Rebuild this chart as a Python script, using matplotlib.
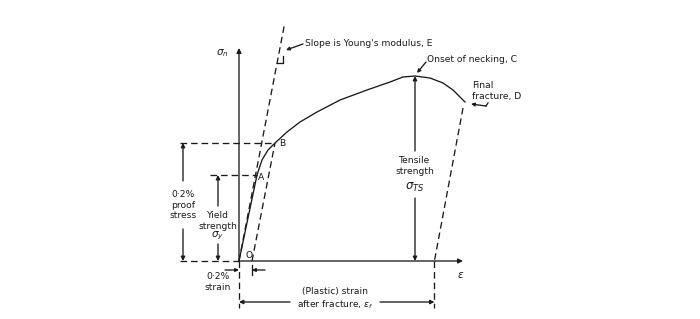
import matplotlib
matplotlib.use("Agg")
import matplotlib.pyplot as plt
import numpy as np

# ---- data (arbitrary strain / stress units) ----
curve_strain = [0, 18, 23, 29, 36, 48, 61, 78, 101, 128, 151, 164, 176, 191, 204, 214, 221, 226]
curve_stress = [0, 86, 101, 111, 118, 129, 139, 149, 161, 171, 179, 184, 185, 183, 178, 171, 164, 159]
modulus_E = 5.2          # slope of elastic line
proof_offset = 13        # 0.2 % strain offset
elastic_top = 236        # top of elastic dashed line (stress)
point_A = (18, 86)
point_B = (36, 118)
point_C = (176, 185)
point_D = (226, 159)

labels = {
    "sigma": r"$\sigma_n$",
    "eps": r"$\epsilon$",
    "slope": "Slope is Young's modulus, E",
    "neck": "Onset of necking, C",
    "fract": "Final\nfracture, D",
    "proof": "0·2%\nproof\nstress",
    "yield": "Yield\nstrength",
    "sy": r"$\sigma_y$",
    "ts": "Tensile\nstrength",
    "sts": r"$\sigma_{TS}$",
    "strain02": "0·2%\nstrain",
    "plastic": "(Plastic) strain\nafter fracture, $\\epsilon_f$",
}

C = "#1a1a1a"
FS = 6.6
DASH = (0, (5, 3))
LW = 0.95

fig = plt.figure(figsize=(7.0, 3.19), dpi=100)
ax = fig.add_axes([0, 0, 1, 1])
ax.set_xlim(-239, 461)
ax.set_ylim(-58, 261)
ax.axis("off")

def arrow(x0, y0, x1, y1, ms=6):
    ax.annotate("", xy=(x1, y1), xytext=(x0, y0),
                arrowprops=dict(arrowstyle="-|>", color=C, lw=LW,
                                mutation_scale=ms, shrinkA=0, shrinkB=0))

# axes
arrow(0, 0, 0, 213, ms=7)
arrow(0, 0, 224, 0, ms=7)
ax.text(-17, 208, labels["sigma"], fontsize=7.5, color=C, ha="center", va="center")
ax.text(222, -14, labels["eps"], fontsize=7.5, color=C, ha="center", va="center")

# main curve
ax.plot(curve_strain, curve_stress, color=C, lw=LW, solid_joinstyle="round")

# elastic dashed line through origin
ax.plot([0, elastic_top / modulus_E], [0, elastic_top], color=C, lw=LW, ls=DASH)
# offset line to B
ax.plot([proof_offset, point_B[0]], [0, point_B[1]], color=C, lw=LW, ls=DASH)
# unloading line from D
eps_f = point_D[0] - point_D[1] / modulus_E
ax.plot([point_D[0] - 2, eps_f], [point_D[1] - 6, 0], color=C, lw=LW, ls=DASH)

# point labels
ax.text(point_A[0] + 1, point_A[1] - 3, "A", fontsize=FS, color=C, ha="left", va="center")
ax.text(point_B[0] + 4, point_B[1], "B", fontsize=FS, color=C, ha="left", va="center")
ax.text(6, 5, "O", fontsize=FS, color=C, ha="left", va="center")

# horizontal dashed reference lines
ax.plot([-59, point_B[0]], [point_B[1], point_B[1]], color=C, lw=LW, ls=DASH)
ax.plot([-29, point_A[0]], [point_A[1], point_A[1]], color=C, lw=LW, ls=DASH)
ax.plot([-59, 0], [0, 0], color=C, lw=LW, ls=DASH)

# vertical dashed below axis
ax.plot([0, 0], [0, -47], color=C, lw=LW, ls=DASH)
ax.plot([eps_f, eps_f], [0, -47], color=C, lw=LW, ls=DASH)

# proof stress dimension
xp = -56
arrow(xp, 80, xp, point_B[1])
arrow(xp, 32, xp, 0)
ax.text(xp, 56, labels["proof"], fontsize=FS, color=C, ha="center", va="center",
        linespacing=1.15)

# yield strength dimension
xy_ = -21
arrow(xy_, 55, xy_, point_A[1])
arrow(xy_, 17, xy_, 0)
ax.text(xy_, 40, labels["yield"], fontsize=FS, color=C, ha="center", va="center",
        linespacing=1.15)
ax.text(xy_ - 1, 25, labels["sy"], fontsize=7.5, color=C, ha="center", va="center")

# tensile strength dimension
xt = point_C[0]
arrow(xt, 110, xt, point_C[1])
arrow(xt, 63, xt, 0)
ax.text(xt, 95, labels["ts"], fontsize=FS, color=C, ha="center", va="center",
        linespacing=1.15)
ax.text(xt, 74, labels["sts"], fontsize=8.5, color=C, ha="center", va="center")

# 0.2% strain marker
arrow(-14, -9, 0, -9, ms=5)
arrow(26, -9, proof_offset, -9, ms=5)
ax.plot([proof_offset, proof_offset], [-4, -14], color=C, lw=LW)
ax.text(-21, -21, labels["strain02"], fontsize=FS, color=C, ha="center", va="center",
        linespacing=1.15)

# plastic strain after fracture
arrow(51, -41, 0, -41)
arrow(141, -41, eps_f, -41)
ax.text(96, -38, labels["plastic"], fontsize=FS, color=C, ha="center", va="center",
        linespacing=1.2)

# slope annotation
ax.text(66, 217, labels["slope"], fontsize=FS, color=C, ha="left", va="center")
arrow(64, 217, 47, 211, ms=5)
ax.plot([44, 44, 38], [205, 198, 198], color=C, lw=LW)

# necking annotation
ax.text(188, 202, labels["neck"], fontsize=FS, color=C, ha="left", va="center")
arrow(187, 199, 178, 188, ms=5)

# fracture annotation
ax.text(233, 170, labels["fract"], fontsize=FS, color=C, ha="left", va="center",
        linespacing=1.2)
ax.plot([249, 247], [158, 155], color=C, lw=LW)
arrow(247, 155, 232, 157, ms=5)

fig.savefig("out.png", dpi=100, facecolor="white")
